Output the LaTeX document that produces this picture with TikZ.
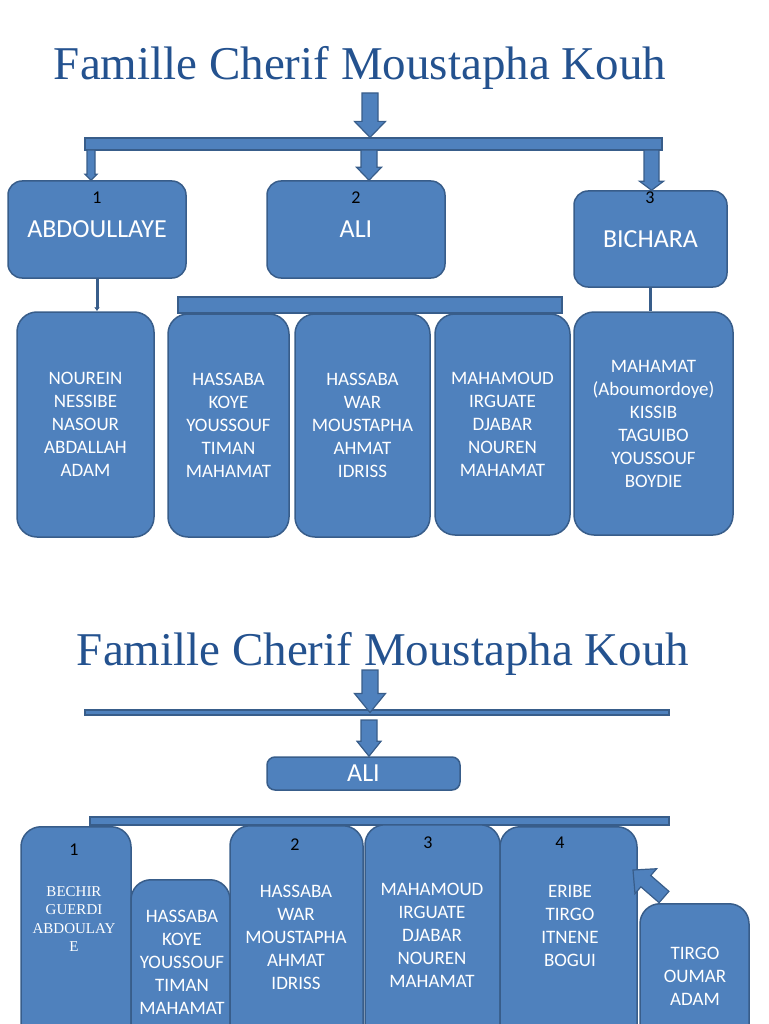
\documentclass[tikz,border=0pt]{standalone}
\usepackage{fontspec}
\setmainfont{Liberation Serif}
\newfontfamily\calibri{Carlito}
\usetikzlibrary{arrows.meta, positioning, calc}

\definecolor{boxblue}{HTML}{4F81BD}
\definecolor{edgeblue}{HTML}{385D8A}
\definecolor{titleblue}{HTML}{24528F}

% block arrow: from, to, shaft half width, head half width, head length
\newcommand{\blockarrow}[5]{%
  \coordinate (ba) at (#1);
  \coordinate (bb) at (#2);
  \coordinate (bh) at ($(bb)!#5!(ba)$);
  \draw[arrowshape] ($(ba)!#3!90:(bb)$) -- ($(bh)!#3!-90:(ba)$) -- ($(bh)!#4!-90:(ba)$)
    -- (bb) -- ($(bh)!#4!90:(ba)$) -- ($(bh)!#3!90:(ba)$) -- ($(ba)!#3!-90:(bb)$) -- cycle;
}

\begin{document}
\begin{tikzpicture}[
          x=1pt, y=-1pt,
          titletext/.style={text=titleblue, font=\fontsize{47}{56}\selectfont, inner sep=0pt, anchor=base},
          namebox/.style={rectangle, rounded corners=14pt, draw=edgeblue, line width=1.5pt, fill=boxblue, text=white, inner sep=2pt, font=\calibri\fontsize{26}{31}\selectfont},
          listbox/.style={rectangle, rounded corners=20pt, draw=edgeblue, line width=1.5pt, fill=boxblue, text=white, align=center, font=\calibri\fontsize{19}{23}\selectfont},
          tallbox/.style={listbox, anchor=north, minimum height=260pt},
          listtext/.style={text=white, align=center, inner sep=0pt, font=\calibri\fontsize{19}{23}\selectfont},
          serifnames/.style={text=white, align=center, inner sep=0pt, font=\fontsize{15}{18.5}\selectfont},
          numtext/.style={text=black, inner sep=0pt, font=\calibri\fontsize{18}{21}\selectfont},
          barbox/.style={rectangle, draw=edgeblue, line width=1.2pt, fill=boxblue, inner sep=0pt},
          arrowshape/.style={draw=edgeblue, line width=1.2pt, fill=boxblue, line join=miter},
          linkline/.style={draw=edgeblue, line width=3pt}
        ]
          \useasboundingbox (0,0) rectangle (768,1024);
          \clip (0,0) rectangle (768,1024);

          % first chart
          \node[titletext] (title1) at (360,80) {Famille Cherif Moustapha Kouh};
          \node[barbox, minimum width=577pt, minimum height=12pt] (bar1) at (373.5,144) {};

          \node[namebox, minimum width=178pt, minimum height=97pt] (abd) at (97,229.5) {ABDOULLAYE};
          \node[namebox, minimum width=178pt, minimum height=97pt] (ali) at (356,229.5) {ALI};
          \node[namebox, minimum width=153pt, minimum height=96pt] (bich) at (650.5,239) {BICHARA};
          \node[numtext] (num1) at (97,198) {1};
          \node[numtext] (num2) at (356,198) {2};
          \node[numtext] (num3) at (650,198) {3};

          \node[barbox, minimum width=384pt, minimum height=16pt] (bar2) at (370,305) {};

          \node[listbox, minimum width=137pt, minimum height=225pt] (nourein) at (85.5,424.5) {NOUREIN\\NESSIBE\\NASOUR\\ABDALLAH\\ADAM};
          \node[listbox, minimum width=121pt, minimum height=223pt] (koye) at (228.5,425.5) {HASSABA\\KOYE\\YOUSSOUF\\TIMAN\\MAHAMAT};
          \node[listbox, minimum width=135pt, minimum height=223pt] (war) at (362.5,425.5) {HASSABA\\WAR\\MOUSTAPHA\\AHMAT\\IDRISS};
          \node[listbox, minimum width=135pt, minimum height=221pt] (mahamoud) at (502.5,424.5) {MAHAMOUD\\IRGUATE\\DJABAR\\NOUREN\\MAHAMAT};
          \node[listbox, minimum width=159pt, minimum height=223pt] (mahamat) at (653.5,423.5) {MAHAMAT\\(Aboumordoye)\\KISSIB\\TAGUIBO\\YOUSSOUF\\BOYDIE};

          \coordinate (a1s) at (370,93);
          \blockarrow{a1s}{a1s |- bar1.north}{8pt}{15.5pt}{16pt}
          \coordinate (a2s) at (91,150);
          \blockarrow{a2s}{a2s |- abd.north}{4pt}{6pt}{6pt}
          \coordinate (a3s) at (369,150);
          \blockarrow{a3s}{a3s |- ali.north}{8pt}{12.5pt}{13pt}
          \coordinate (a4s) at (651.5,150);
          \blockarrow{a4s}{a4s |- bich.north}{7.5pt}{12pt}{9pt}

          \draw[linkline, -{Latex[length=4pt,width=6pt]}] (abd.south) -- (abd.south |- nourein.north);
          \draw[linkline] ($(ali.south)+(8,0)$) -- ($(ali.south)+(8,0)$ |- bar2.north);
          \draw[linkline] (bich.south) -- (bich.south |- mahamat.north);

          % second chart
          \node[titletext] (title2) at (383,665) {Famille Cherif Moustapha Kouh};
          \node[barbox, minimum width=584pt, minimum height=5pt] (bar3) at (377,712.5) {};
          \node[namebox, minimum width=193pt, minimum height=33pt, rounded corners=8pt] (ali2) at (363.5,773.5) {ALI};
          \node[barbox, minimum width=579pt, minimum height=8pt] (bar4) at (379.5,821) {};

          \coordinate (a5s) at (370,670);
          \blockarrow{a5s}{a5s |- bar3}{8pt}{15.5pt}{19pt}
          \coordinate (a6s) at (369,720);
          \blockarrow{a6s}{a6s |- ali2.north}{8pt}{12pt}{15pt}
          \draw[linkline] ($(ali2.south)+(6,0)$) -- ($(ali2.south)+(6,0)$ |- bar4.north);

          \node[tallbox, minimum width=110pt] (b1) at (76,826) {};
          \node[tallbox, minimum width=99pt] (koye2) at (180.5,879) {};
          \node[tallbox, minimum width=133pt] (war2) at (296.5,825) {};
          \node[tallbox, minimum width=135pt] (mahamoud2) at (432.5,824) {};
          \node[tallbox, minimum width=137pt] (eribe) at (568.5,826) {};
          \node[tallbox, minimum width=109pt] (tirgo) at (694.5,903) {};

          \node[numtext] (num4) at (74,850) {1};
          \node[numtext] (num5) at (295,845) {2};
          \node[numtext] (num6) at (428,843) {3};
          \node[numtext] (num7) at (560,843) {4};

          \node[serifnames] (b1names) at (74,919) {BECHIR\\GUERDI\\ABDOULAY\\E};
          \node[listtext] (koye2names) at (182,962) {HASSABA\\KOYE\\YOUSSOUF\\TIMAN\\MAHAMAT};
          \node[listtext] (war2names) at (296,937.5) {HASSABA\\WAR\\MOUSTAPHA\\AHMAT\\IDRISS};
          \node[listtext] (mahamoud2names) at (432,935.5) {MAHAMOUD\\IRGUATE\\DJABAR\\NOUREN\\MAHAMAT};
          \node[listtext] (eribenames) at (570,926) {ERIBE\\TIRGO\\ITNENE\\BOGUI};
          \node[listtext] (tirgonames) at (695,976.5) {TIRGO\\OUMAR\\ADAM};

          \coordinate (a7s) at (664,897);
          \coordinate (a7e) at (633,870);
          \blockarrow{a7s}{a7e}{7.5pt}{16.5pt}{17pt}
        \end{tikzpicture}
\end{document}
